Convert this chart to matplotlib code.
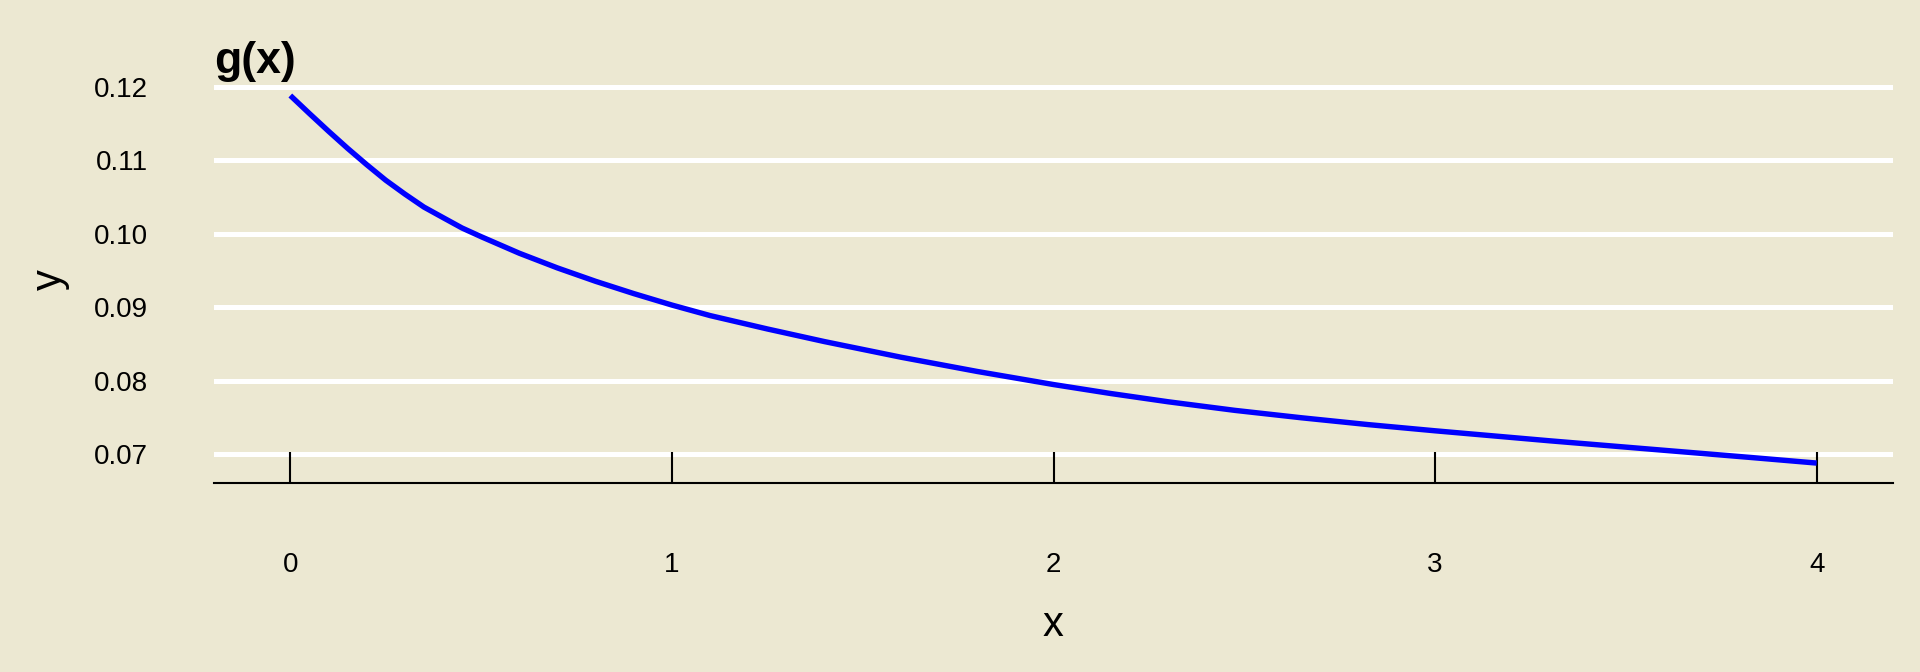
import matplotlib
matplotlib.use("Agg")
import matplotlib.pyplot as plt

# Data
x_vals = [0.0, 0.05, 0.1, 0.15, 0.2, 0.25, 0.3, 0.35, 0.4, 0.45, 0.5, 0.6, 0.7,
          0.8, 0.9, 1.0, 1.1, 1.25, 1.4, 1.6, 1.8, 2.0, 2.15, 2.3, 2.475, 2.65,
          2.825, 3.0, 3.3, 3.56, 3.83, 4.0]
y_vals = [0.1188, 0.11635, 0.11395, 0.11162, 0.1094, 0.10728, 0.1054, 0.10363,
          0.1022, 0.10078, 0.0996, 0.09735, 0.09535, 0.09353, 0.09186, 0.0903,
          0.08887, 0.08705, 0.08533, 0.08321, 0.08127, 0.07949, 0.07827, 0.07715,
          0.07598, 0.07497, 0.07404, 0.0732, 0.07184, 0.07072, 0.06956, 0.06881]
x_ticks = [0, 1, 2, 3, 4]
y_ticks = [0.07, 0.08, 0.09, 0.10, 0.11, 0.12]
y_tick_labels = ["0.07", "0.08", "0.09", "0.10", "0.11", "0.12"]
title_text = "g(x)"
x_label = "x"
y_label = "y"

BG = "#ECE8D2"
W, H = 1920, 672
plt.rcParams['font.family'] = ['Liberation Sans', 'DejaVu Sans']

fig = plt.figure(figsize=(W / 100, H / 100), dpi=100, facecolor=BG)
left, right, bottom_px, top_px = 214, 1893, 483, 83
ax = fig.add_axes([left / W, 1 - bottom_px / H, (right - left) / W, (bottom_px - top_px) / H])
ax.set_facecolor(BG)

ax.set_xlim(-0.2, 4.2)
ax.set_ylim(0.0661, 0.1205)

for yv in y_ticks:
    ax.axhline(yv, color="white", lw=3.6, zorder=1)

ax.plot(x_vals, y_vals, color="#0000FF", lw=3.9, zorder=3, solid_capstyle="butt",
        solid_joinstyle="round")

for s in ["top", "right", "left"]:
    ax.spines[s].set_visible(False)
ax.spines["bottom"].set_linewidth(1.5)
ax.spines["bottom"].set_color("black")
ax.spines["bottom"].set_zorder(4)

ax.set_xticks(x_ticks)
ax.set_xticklabels([str(t) for t in x_ticks])
ax.set_yticks(y_ticks)
ax.set_yticklabels(y_tick_labels)
ax.tick_params(axis="x", direction="in", length=22, width=1.5, color="black",
               pad=50, labelsize=20)
ax.tick_params(axis="y", length=0, pad=47.5, labelsize=20)
for t in ax.xaxis.get_major_ticks():
    t.tick1line.set_zorder(5)

fig.text(left / W, 1 - 73 / H, title_text, fontsize=32, fontweight="bold",
         ha="left", va="baseline")
fig.text(1053 / W, 1 - 625 / H, x_label, fontsize=30, ha="center", va="center")
fig.text(50 / W, 1 - 280 / H, y_label, fontsize=30, ha="center", va="center",
         rotation=90)

fig.savefig("out.png", dpi=100, facecolor=BG)
